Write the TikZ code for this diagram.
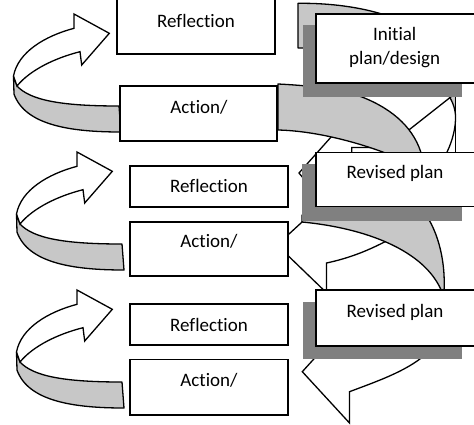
\documentclass[tikz,border=0pt]{standalone}
\usepackage{fontspec}
\setmainfont{Carlito}[Ligatures=CommonOff]

\begin{document}
\begin{tikzpicture}[
  x=1pt, y=-1pt,
  box/.style={draw=black, line width=1.5pt, fill=white, inner sep=0pt},
  drop/.style={fill=black!50},
  band/.style={draw=black, line width=1.3pt, fill=black!22, line join=round},
  sheet/.style={draw=black, line width=1.3pt, fill=white},
  rim/.style={line width=1.3pt},
  lbl/.style={font=\fontsize{19}{24.5}\selectfont, inner sep=0pt}
]
  \useasboundingbox (0,0) rectangle (474,424);
  \clip (0,0) rectangle (474,424);

  % spiral on the right, back to front
  \draw[band] (298,48) -- (298,3.3) .. controls (330,3) and (360,7) .. (385,15) -- (385,48) -- cycle;
  \fill[black!22] (446,92) .. controls (454,102) and (456,112) .. (455.5,120) -- (455.5,92) -- cycle;
  \draw[rim] (446,92) .. controls (454,102) and (456,112) .. (455.5,120) .. controls (455,132) and (451,145) .. (445,156);
  \draw[rim] (455.5,92) -- (455.5,156);
  \draw[rim] (405,133) -- (452,96);
  \draw[sheet] (348,118) -- (299,173) -- (325,205) -- (351.7,205) -- (351.7,147.5) -- (390,147.5) -- (390,122) -- cycle;
  \draw[band] (278,84) .. controls (320,86) and (345,91) .. (362,97) .. controls (395,110) and (415,130) .. (422,156) -- (388,154) .. controls (365,145) and (320,131) .. (278,130) -- cycle;
  \draw[sheet] (313,212) -- (277,245) -- (333,299) -- (326.5,299) -- (326.5,263) .. controls (350,258) and (370,250) .. (392,238) -- (392,212) -- cycle;
  \draw[band] (302,215) -- (302,222) .. controls (365,228) and (425,250) .. (442,292) -- (444,292) .. controls (446,255) and (435,228) .. (426,215) -- cycle;
  \draw[sheet] (322,350) -- (302.3,371.7) -- (349.5,423) -- (349.5,391.7) .. controls (375,382) and (405,372) .. (425,355) -- cycle;

  \fill[drop] (303,25) rectangle (462,97);
  \node[box, minimum width=164pt, minimum height=69pt] (init) at (398.2,48.5) {};
  \fill[drop] (302.3,164) rectangle (461.7,221);
  \node[box, minimum width=164pt, minimum height=54pt] (rev1) at (398.2,179.7) {};
  \fill[drop] (303.3,301.7) rectangle (461.7,359);
  \node[box, minimum width=164pt, minimum height=55.7pt] (rev2) at (398.2,317.9) {};

  % curled arrows on the left
  \foreach \dx/\dy in {0/0, 3/138, 3/276} {
    \begin{scope}[shift={(\dx,\dy)}]
      \draw[band] (13.5,76) -- (17,86) .. controls (30,100) and (60,106) .. (119,106) -- (121,132) .. controls (70,132) and (25,125) .. (14,94) -- cycle;
      \draw[sheet] (13.5,76) .. controls (18,52) and (45,36) .. (74,28.3) -- (74,14) -- (109.3,33.3) -- (81.7,65) -- (80,51.7) .. controls (55,58) and (30,70) .. (17,86) -- cycle;
    \end{scope}
  }

  \node[box, minimum width=158pt, minimum height=56pt] (refl1) at (196,26) {};
  \node[box, minimum width=157pt, minimum height=55pt] (act1) at (198.5,113.5) {};
  \node[box, minimum width=158pt, minimum height=40.7pt] (refl2) at (209,186.4) {};
  \node[box, minimum width=158pt, minimum height=54.3pt] (act2) at (209,248.9) {};
  \node[box, minimum width=158pt, minimum height=41pt] (refl3) at (209,324.5) {};
  \node[box, minimum width=158pt, minimum height=55.7pt] (act3) at (209,387.2) {};

  \node[lbl] (refl1t) at (196,20.7) {Reflection};
  \node[lbl] (act1t) at (199,107) {Action/};
  \node[lbl] (refl2t) at (209,186) {Reflection};
  \node[lbl] (act2t) at (209,241.7) {Action/};
  \node[lbl] (refl3t) at (209,325) {Reflection};
  \node[lbl] (act3t) at (209,380) {Action/};
  \node[lbl, align=center] (initt) at (394.7,47.6) {Initial\\plan/design};
  \node[lbl] (rev1t) at (395,173) {Revised plan};
  \node[lbl] (rev2t) at (395,312) {Revised plan};
\end{tikzpicture}
\end{document}
